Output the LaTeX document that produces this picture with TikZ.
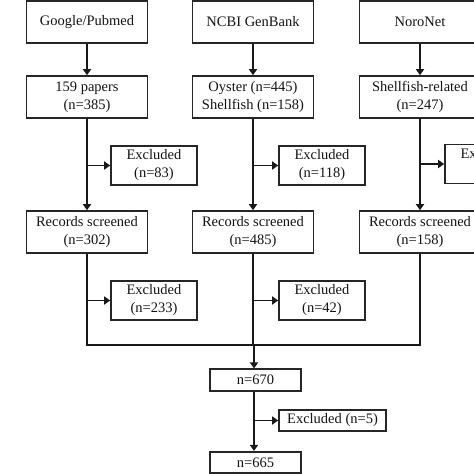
\documentclass[tikz,border=0pt]{standalone}
\usepackage{fontspec}
\setmainfont{Liberation Serif}
\usetikzlibrary{arrows.meta}
\begin{document}
\begin{tikzpicture}[x=1pt,y=-1pt,
  every node/.style={font=\fontsize{14.5}{18}\selectfont, text=black!92},
  box/.style={draw=black!85, line width=1.6pt, align=center, inner sep=0pt, minimum width=121pt, minimum height=42pt},
  exbox/.style={draw=black!85, line width=1.6pt, align=center, inner sep=0pt, minimum width=86pt, minimum height=39pt},
  smallbox/.style={draw=black!85, line width=1.6pt, align=center, inner sep=0pt, minimum width=91pt, minimum height=21.5pt},
  conn/.style={draw=black!90, line width=1.6pt},
  arr/.style={conn, -{Triangle[length=6pt,width=8pt]}}]
\useasboundingbox (0,0) rectangle (474,474);
\clip (0,0) rectangle (474,474);
\fill[white] (0,0) rectangle (474,474);
% column 1
\node[box] (g) at (87,22) {Google/Pubmed};
\node[box] (g2) at (87,97) {159 papers\\(n=385)};
\node[exbox] (ge1) at (154,165.5) {Excluded\\(n=83)};
\node[box] (g3) at (87,232) {Records screened\\(n=302)};
\node[exbox] (ge2) at (154,300.5) {Excluded\\(n=233)};
% column 2
\node[box] (n) at (253,22) {NCBI GenBank};
\node[box] (n2) at (253,97) {Oyster (n=445)\\Shellfish (n=158)};
\node[exbox] (ne1) at (322,165.5) {Excluded\\(n=118)};
\node[box] (n3) at (253,232) {Records screened\\(n=485)};
\node[exbox] (ne2) at (322,300.5) {Excluded\\(n=42)};
% column 3
\node[box] (r) at (420,22) {NoroNet};
\node[box] (r2) at (420,97) {Shellfish-related\\(n=247)};
\node[exbox] (re1) at (488,164) {Excluded\\(n=)};
\node[box] (r3) at (420,232) {Records screened\\(n=158)};
% bottom
\coordinate (j) at (254,345);
\node[smallbox] (m) at (255.5,380) {n=670};
\node[smallbox, minimum width=107pt] (me) at (332.5,420.5) {Excluded (n=5)};
\node[smallbox] (f) at (255.5,462.5) {n=665};
% connectors
\foreach \a/\b/\c in {g/g2/g3, n/n2/n3, r/r2/r3}{
  \draw[arr] (\a.south) -- (\b.north);
  \draw[arr] (\b.south) -- (\c.north);
}
\draw[arr] (g2.south |- ge1.west) -- (ge1.west);
\draw[arr] (n2.south |- ne1.west) -- (ne1.west);
\draw[arr] (r2.south |- re1.west) -- (re1.west);
\draw[arr] (g3.south |- ge2.west) -- (ge2.west);
\draw[arr] (n3.south |- ne2.west) -- (ne2.west);
\draw[conn] (g3.south) -- (g3.south |- j) -- (r3.south |- j) -- (r3.south);
\draw[conn] (n3.south) -- (n3.south |- j);
\draw[arr] (j) -- (j |- m.north);
\draw[arr] (j |- m.south) -- (j |- f.north);
\draw[arr] (j |- me.west) -- (me.west);
\end{tikzpicture}
\end{document}
